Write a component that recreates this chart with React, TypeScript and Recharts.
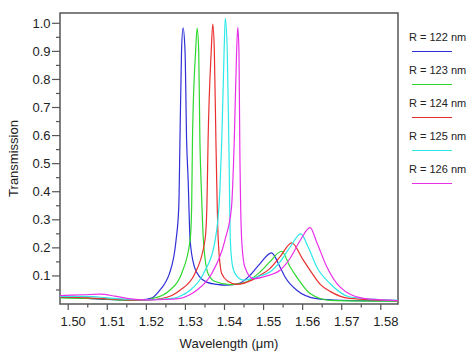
import { LineChart, Line, XAxis, YAxis, ReferenceArea } from 'recharts'

const FONT = '"Liberation Sans", Arial, sans-serif'

const X_MIN = 1.4979
const X_MAX = 1.5844
const Y_MAX = 1.0367

const X_TICKS = [
  1.5, 1.505, 1.51, 1.515, 1.52, 1.525, 1.53, 1.535, 1.54, 1.545, 1.55, 1.555, 1.56, 1.565, 1.57,
  1.575, 1.58,
]
const Y_TICKS = [
  0.05, 0.1, 0.15, 0.2, 0.25, 0.3, 0.35, 0.4, 0.45, 0.5, 0.55, 0.6, 0.65, 0.7, 0.75, 0.8, 0.85,
  0.9, 0.95, 1.0,
]

// R = 122 nm
const WL_122 = [
  1.4979, 1.505, 1.51, 1.515, 1.52, 1.5215, 1.5232, 1.5248, 1.5259, 1.5276, 1.5283, 1.5286, 1.529,
  1.5294, 1.5299, 1.5303, 1.5307, 1.5312, 1.5323, 1.5337, 1.5354, 1.538, 1.5406, 1.544, 1.5465,
  1.5491, 1.552, 1.5542, 1.5555, 1.5585, 1.5636, 1.57, 1.5844,
]
const T_122 = [
  0.024, 0.02, 0.016, 0.014, 0.017, 0.022, 0.045, 0.075, 0.108, 0.227, 0.346, 0.584, 0.9, 0.984,
  0.9, 0.584, 0.44, 0.227, 0.132, 0.096, 0.078, 0.07, 0.067, 0.075, 0.102, 0.144, 0.182, 0.132,
  0.096, 0.049, 0.019, 0.013, 0.011,
]

// R = 123 nm
const WL_123 = [
  1.4979, 1.505, 1.51, 1.515, 1.52, 1.5217, 1.524, 1.526, 1.529, 1.5312, 1.5316, 1.5318, 1.5326,
  1.533, 1.5334, 1.5337, 1.5341, 1.5346, 1.5358, 1.5376, 1.5414, 1.545, 1.5491, 1.5516, 1.5546,
  1.5568, 1.5585, 1.5619, 1.567, 1.5844,
]
const T_123 = [
  0.022, 0.02, 0.017, 0.014, 0.014, 0.02, 0.03, 0.049, 0.108, 0.227, 0.35, 0.584, 0.9, 0.982, 0.9,
  0.584, 0.4, 0.227, 0.108, 0.08, 0.069, 0.075, 0.114, 0.15, 0.188, 0.132, 0.096, 0.037, 0.013,
  0.01,
]

// R = 124 nm
const WL_124 = [
  1.4979, 1.505, 1.51, 1.515, 1.52, 1.5242, 1.5265, 1.5286, 1.5324, 1.535, 1.5355, 1.5358, 1.5366,
  1.537, 1.5374, 1.5378, 1.5384, 1.5393, 1.541, 1.5431, 1.547, 1.5491, 1.5516, 1.5542, 1.5572,
  1.56, 1.5619, 1.5645, 1.567, 1.572, 1.5844,
]
const T_124 = [
  0.025, 0.022, 0.018, 0.015, 0.014, 0.02, 0.03, 0.049, 0.108, 0.227, 0.35, 0.584, 0.9, 0.997, 0.9,
  0.584, 0.227, 0.108, 0.08, 0.07, 0.085, 0.102, 0.126, 0.168, 0.218, 0.16, 0.12, 0.07, 0.045,
  0.02, 0.012,
]

// R = 125 nm
const WL_125 = [
  1.4979, 1.505, 1.51, 1.515, 1.52, 1.5268, 1.529, 1.5312, 1.5346, 1.5376, 1.5388, 1.5393, 1.5399,
  1.5402, 1.5407, 1.5411, 1.5415, 1.542, 1.5427, 1.5448, 1.549, 1.5516, 1.5542, 1.5568, 1.5595,
  1.5615, 1.5636, 1.567, 1.5721, 1.5844,
]
const T_125 = [
  0.027, 0.027, 0.022, 0.017, 0.015, 0.02, 0.03, 0.049, 0.108, 0.227, 0.4, 0.584, 0.9, 1.018, 0.9,
  0.584, 0.227, 0.14, 0.108, 0.085, 0.1, 0.114, 0.15, 0.203, 0.25, 0.2, 0.132, 0.073, 0.025, 0.013,
]

// R = 126 nm
const WL_126 = [
  1.4979, 1.504, 1.5081, 1.512, 1.516, 1.52, 1.525, 1.5286, 1.531, 1.5329, 1.5367, 1.5401, 1.5418,
  1.5425, 1.5431, 1.5434, 1.5437, 1.5439, 1.5444, 1.5452, 1.5474, 1.5508, 1.5542, 1.5568, 1.5594,
  1.5619, 1.5636, 1.5662, 1.5696, 1.5755, 1.5844,
]
const T_126 = [
  0.03, 0.033, 0.035, 0.028, 0.018, 0.015, 0.016, 0.02, 0.032, 0.049, 0.108, 0.227, 0.346, 0.584,
  0.9, 0.986, 0.9, 0.584, 0.227, 0.132, 0.09, 0.1, 0.12, 0.163, 0.227, 0.272, 0.22, 0.132, 0.06,
  0.02, 0.012,
]

const SERIES = [
  { name: 'R = 122 nm', color: '#2f2fd8', wl: WL_122, t: T_122 },
  { name: 'R = 123 nm', color: '#2ed82e', wl: WL_123, t: T_123 },
  { name: 'R = 124 nm', color: '#ea2f2f', wl: WL_124, t: T_124 },
  { name: 'R = 125 nm', color: '#2ee8e8', wl: WL_125, t: T_125 },
  { name: 'R = 126 nm', color: '#ea2fea', wl: WL_126, t: T_126 },
]

const toPoints = (wl: number[], t: number[]) => wl.map((x, i) => ({ x, t: t[i] }))

// tickSize/tickMargin are 0, so x/y arrive on the axis line itself
function XTick(props: { x?: number; y?: number; payload?: { value: number } }) {
  const { x = 0, y = 0, payload } = props
  const v = payload?.value ?? 0
  const major = Math.round(v * 1000) % 10 === 0
  return (
    <g>
      <line x1={x} y1={y} x2={x} y2={y + (major ? 6 : 3.5)} stroke="#555" strokeWidth={1.2} />
      {major ? (
        <text x={x + 5} y={y + 22} textAnchor="middle" fontSize={13} fill="#222" fontFamily={FONT}>
          {v.toFixed(2)}
        </text>
      ) : null}
    </g>
  )
}

function YTick(props: { x?: number; y?: number; payload?: { value: number } }) {
  const { x = 0, y = 0, payload } = props
  const v = payload?.value ?? 0
  const major = Math.round(v * 100) % 10 === 0
  return (
    <g>
      <line x1={x - (major ? 8 : 4)} y1={y} x2={x} y2={y} stroke="#555" strokeWidth={1.2} />
      {major ? (
        <text x={x - 9.5} y={y + 4.5} textAnchor="end" fontSize={13} fill="#222" fontFamily={FONT}>
          {v.toFixed(1)}
        </text>
      ) : null}
    </g>
  )
}

export default function App() {
  return (
    <div style={{ position: 'absolute', left: 0, top: 0, width: 474, height: 355, background: '#fff' }}>
      <LineChart width={474} height={355} margin={{ top: 13, right: 76, bottom: 0, left: 0 }}>
        <XAxis
          type="number"
          dataKey="x"
          domain={[X_MIN, X_MAX]}
          allowDataOverflow
          ticks={X_TICKS}
          interval={0}
          height={51}
          tickSize={0}
          tickMargin={0}
          tickLine={false}
          axisLine={false}
          tick={XTick}
          label={{
            value: 'Wavelength (\u03bcm)',
            position: 'insideBottom',
            offset: 7,
            style: { fontSize: 13, fill: '#222', fontFamily: FONT },
          }}
        />
        <YAxis
          type="number"
          domain={[0, Y_MAX]}
          allowDataOverflow
          ticks={Y_TICKS}
          interval={0}
          width={60}
          tickSize={0}
          tickMargin={0}
          tickLine={false}
          axisLine={false}
          tick={YTick}
          label={{
            value: 'Transmission',
            angle: -90,
            position: 'insideLeft',
            offset: 13,
            style: { fontSize: 13, fill: '#222', fontFamily: FONT, textAnchor: 'middle' },
          }}
        />
        {SERIES.map((s) => (
          <Line
            key={s.name}
            name={s.name}
            data={toPoints(s.wl, s.t)}
            dataKey="t"
            type="monotone"
            stroke={s.color}
            strokeWidth={1.2}
            dot={false}
            activeDot={false}
            isAnimationActive={false}
          />
        ))}
        <ReferenceArea
          x1={X_MIN}
          x2={X_MAX}
          y1={0}
          y2={Y_MAX}
          fill="none"
          stroke="#555"
          strokeWidth={1.5}
          ifOverflow="visible"
        />
      </LineChart>
      <div style={{ position: 'absolute', left: 405, top: 26, width: 66, fontFamily: FONT }}>
        {SERIES.map((s) => (
          <div key={s.name} style={{ position: 'relative', height: 33 }}>
            <span
              style={{
                position: 'absolute',
                left: 4,
                top: 5,
                fontSize: 11,
                lineHeight: '13px',
                color: '#222',
                whiteSpace: 'nowrap',
              }}
            >
              {s.name}
            </span>
            <div
              style={{
                position: 'absolute',
                left: 7,
                top: 25,
                width: 40,
                borderTop: `1.5px solid ${s.color}`,
              }}
            />
          </div>
        ))}
      </div>
    </div>
  )
}
